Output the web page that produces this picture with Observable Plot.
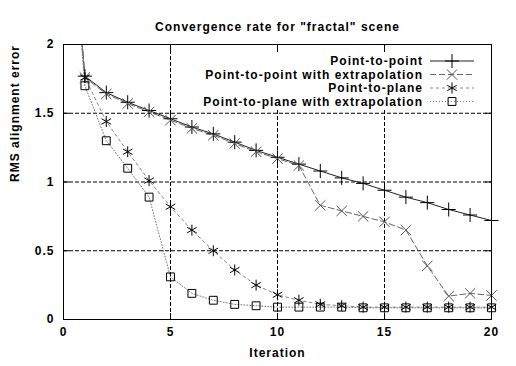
<!DOCTYPE html>
<html>
<head>
<meta charset="utf-8">
<script src="https://cdn.jsdelivr.net/npm/d3@7"></script>
<script src="https://cdn.jsdelivr.net/npm/@observablehq/plot@0.6"></script>
<style>
  html, body { margin: 0; padding: 0; background: #fff; }
  svg { font-family: "Liberation Sans", Arial, sans-serif; }
  svg text { letter-spacing: 1px; }
</style>
</head>
<body>
<div id="chart"></div>
<script>
const title = 'Convergence rate for "fractal" scene';
const xLabel = "Iteration";
const yLabel = "RMS alignment error";
const iterations = [0,1,2,3,4,5,6,7,8,9,10,11,12,13,14,15,16,17,18,19,20];
const seriesNames = ["Point-to-point", "Point-to-point with extrapolation", "Point-to-plane", "Point-to-plane with extrapolation"];
const pointToPoint = [3.6,1.77,1.65,1.58,1.52,1.46,1.40,1.35,1.29,1.23,1.18,1.13,1.08,1.03,0.99,0.94,0.89,0.85,0.80,0.76,0.72];
const pointToPointExt = [3.6,1.76,1.64,1.57,1.51,1.45,1.39,1.34,1.28,1.22,1.17,1.12,0.83,0.79,0.75,0.71,0.65,0.39,0.17,0.19,0.175];
const pointToPlane = [3.6,1.76,1.44,1.22,1.01,0.82,0.65,0.50,0.36,0.25,0.18,0.14,0.11,0.10,0.09,0.09,0.09,0.09,0.09,0.09,0.09];
const pointToPlaneExt = [3.6,1.70,1.30,1.10,0.89,0.31,0.19,0.14,0.11,0.10,0.09,0.09,0.09,0.09,0.085,0.085,0.085,0.085,0.085,0.085,0.085];
const xTicks = [0,5,10,15,20];
const yTicks = [0,0.5,1,1.5,2];
const xGrid = [5,10,15];
const yGrid = [0.5,1,1.5];

const values = [pointToPoint, pointToPointExt, pointToPlane, pointToPlaneExt];
const styles = [
  {stroke: "#222", dash: null, symbol: "plus", mstroke: "#000", r: 4.6},
  {stroke: "#666", dash: "6,3", symbol: "times", mstroke: "#555", r: 4.8},
  {stroke: "#888", dash: "3,3", symbol: "asterisk", mstroke: "#000", r: 5.2},
  {stroke: "#777", dash: "1,2", symbol: "square2", mstroke: "#000", r: 5.0}
];
const rows = [];
values.forEach((arr, s) => arr.forEach((v, i) => rows.push({series: seriesNames[s], s, x: iterations[i], y: v})));

const W = 516, H = 366, mL = 63, mR = 25, mT = 44, mB = 47;
const plotW = W - mL - mR, plotH = H - mT - mB;

function legend(index, scales, vals, dims) {
  const g = d3.create("svg:g");
  const right = dims.width - dims.marginRight;
  const top = dims.marginTop;
  g.append("rect").attr("x", 192).attr("y", top + 8).attr("width", right - 8 - 192).attr("height", 58).attr("fill", "#fff");
  const map = {plus: d3.symbolPlus, times: d3.symbolTimes, asterisk: d3.symbolAsterisk, square2: d3.symbolSquare2};
  seriesNames.forEach((name, i) => {
    const y = top + 17 + i * 13.5;
    const st = styles[i];
    g.append("text").attr("x", right - 68).attr("y", y).attr("dy", "0.35em")
      .attr("text-anchor", "end").attr("font-size", 12).attr("font-weight", "bold").attr("fill", "#000").text(name);
    g.append("line").attr("x1", right - 61).attr("x2", right - 17).attr("y1", y).attr("y2", y)
      .attr("stroke", st.stroke).attr("stroke-dasharray", st.dash);
    g.append("path").attr("transform", `translate(${right - 39},${y})`)
      .attr("d", d3.symbol(map[st.symbol], Math.PI * st.r * st.r)())
      .attr("fill", "none").attr("stroke", st.mstroke).attr("stroke-width", 1);
  });
  return g.node();
}

const marks = [
  Plot.gridX(xGrid, {stroke: "#000", strokeOpacity: 1, strokeDasharray: "4,2"}),
  Plot.gridY(yGrid, {stroke: "#000", strokeOpacity: 1, strokeDasharray: "4,2"}),
  legend,
  Plot.tickX(xTicks, {x: d => d, insetTop: plotH - 6, stroke: "#000"}),
  Plot.tickX(xTicks, {x: d => d, insetBottom: plotH - 6, stroke: "#000"}),
  Plot.tickY(yTicks, {y: d => d, insetRight: plotW - 6, stroke: "#000"}),
  Plot.tickY(yTicks, {y: d => d, insetLeft: plotW - 6, stroke: "#000"}),
  Plot.axisX(xTicks, {tickSize: 0, tickPadding: 8, fontSize: 12, fontWeight: "bold", label: null}),
  Plot.axisY(yTicks, {tickSize: 0, tickPadding: 9, fontSize: 12, fontWeight: "bold", label: null, tickFormat: d => String(d)}),
];
styles.forEach((st, i) => {
  marks.push(Plot.line(rows.filter(d => d.s === i), {x: "x", y: "y", stroke: st.stroke, strokeWidth: 1, strokeDasharray: st.dash, clip: true}));
});
styles.forEach((st, i) => {
  marks.push(Plot.dot(rows.filter(d => d.s === i && d.y <= 2), {x: "x", y: "y", symbol: () => st.symbol, r: st.r, stroke: st.mstroke, strokeWidth: 1, fill: "none"}));
});
marks.push(
  Plot.frame({stroke: "#000"}),
  Plot.text([title], {frameAnchor: "top", dy: -22, fontSize: 12, fontWeight: "bold", fill: "#000"}),
  Plot.text([xLabel], {frameAnchor: "bottom", dy: 37, fontSize: 12, fontWeight: "bold", fill: "#000"}),
  Plot.text([yLabel], {frameAnchor: "left", dx: -48, rotate: -90, fontSize: 12, fontWeight: "bold", fill: "#000"})
);

const chart = Plot.plot({
  width: W, height: H,
  marginLeft: mL, marginRight: mR, marginTop: mT, marginBottom: mB,
  x: {domain: [0, 20]},
  y: {domain: [0, 2]},
  style: {fontFamily: "'Liberation Sans', Arial, sans-serif", color: "#000", background: "#fff"},
  marks
});
document.getElementById("chart").appendChild(chart);
</script>
</body>
</html>
